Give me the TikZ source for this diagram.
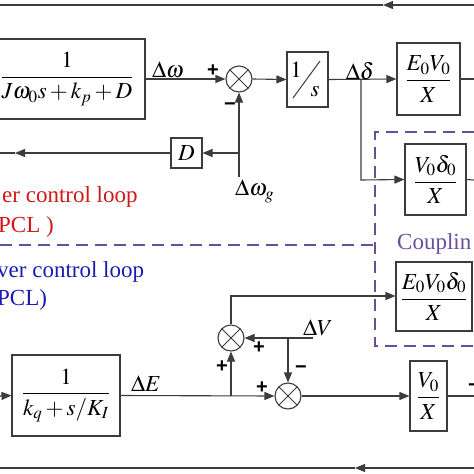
\documentclass[tikz,border=0pt]{standalone}
\usepackage{amsmath}
\usepackage{mathptmx}
\usepackage{fontspec}
\setmainfont{Liberation Serif}
\newfontfamily\signfont{Liberation Sans}
\usetikzlibrary{arrows.meta,calc}
\definecolor{ln}{HTML}{3C3C3C}
\definecolor{pcl}{HTML}{6B4E9B}
\definecolor{rd}{HTML}{D01818}
\definecolor{bl}{HTML}{1A1AB8}
\begin{document}
\begin{tikzpicture}[x=1pt,y=-1pt,
  every node/.style={font=\fontsize{23}{27}\selectfont},
  blk/.style={draw=ln, line width=1.1pt, inner sep=0pt, rectangle},
  sumj/.style={draw=ln, line width=1.1pt, circle, minimum size=26pt, inner sep=0pt,
    path picture={\draw[ln,line width=1pt] (path picture bounding box.north west)--(path picture bounding box.south east)
      (path picture bounding box.north east)--(path picture bounding box.south west);}},
  sig/.style={font=\signfont\bfseries\fontsize{20}{20}\selectfont, inner sep=0pt},
  lbl/.style={inner sep=0pt},
  wire/.style={draw=ln, line width=1.1pt},
  arr/.style={wire, -{Triangle[length=10pt,width=8pt]}},
  dsh/.style={draw=pcl, line width=1.4pt, dash pattern=on 12pt off 7pt},
]
\useasboundingbox (0,0) rectangle (474,474);
\clip (0,0) rectangle (474,474);

% blocks
\node[blk, minimum width=156pt, minimum height=80pt] (g1) at (67,79) {$\dfrac{1}{J\omega_0 s+k_p+D}$};
\node[blk, minimum width=41pt, minimum height=55pt] (int) at (307.5,79.5) {};
\node[lbl] (int1) at (296,70) {$1$};
\node[lbl] (ints) at (315,92) {$s$};
\draw[ln, line width=1pt] (293,98) -- (320,61);
\node[blk, minimum width=63pt, minimum height=72pt] (ev) at (428.5,79) {$\dfrac{E_0V_0}{X}$};
\node[blk, minimum width=61pt, minimum height=71pt] (vd) at (435.5,179.5) {$\dfrac{V_0\delta_0}{X}$};
\node[blk, minimum width=76pt, minimum height=69pt] (evd) at (434,296.5) {$\dfrac{E_0V_0\delta_0}{X}$};
\node[blk, minimum width=31pt, minimum height=30pt] (dd) at (186.5,153) {$D$};
\node[blk, minimum width=108pt, minimum height=81pt] (g2) at (66,395.5) {$\dfrac{1}{k_q+s/K_I}$};
\node[blk, minimum width=37pt, minimum height=70pt] (vx) at (428.5,396) {$\dfrac{V_0}{X}$};

% sums
\node[sumj] (s1) at (239,79) {};
\node[sumj] (s2) at (231,338) {};
\node[sumj] (s3) at (288,396) {};

% coordinates
\coordinate (tr) at (474,5);
\coordinate (tm) at (383,5);
\coordinate (tl) at (0,5);
\coordinate (br) at (474,468);
\coordinate (bm) at (355,468);
\coordinate (bl0) at (0,468);
\coordinate (d1) at (361,79);
\coordinate (d1b) at (361,180);
\coordinate (evout) at (474,79);
\coordinate (vdout) at (474,180);
\coordinate (wg) at (239,177);
\coordinate (wgd) at (239,153);
\coordinate (dl) at (0,153);
\coordinate (dm) at (15,153);
\coordinate (g2in) at (0,396);
\coordinate (e1) at (231,396);
\coordinate (s2t) at (231,296);
\coordinate (dv) at (313,338);
\coordinate (dv1) at (288,338);
\coordinate (vxout) at (474,396);

% connectors
\draw[arr] (tr) -- (tm);
\draw[wire] (tm) -- (tl);
\draw[arr] (br) -- (bm);
\draw[wire] (bm) -- (bl0);
\draw[arr] (g1.east) -- (s1.west);
\draw[arr] (s1.east) -- (int.west);
\draw[arr] (int.east) -- (ev.west);
\draw[wire] (ev.east) -- (evout);
\draw[arr] (d1) -- (d1b) -- (vd.west);
\draw[wire] (vd.east) -- (vdout);
\draw[arr] (wg) -- (s1.south);
\draw[arr] (wgd) -- (dd.east);
\draw[arr] (dd.west) -- (dm);
\draw[wire] (dm) -- (dl);
\draw[arr] (g2in) -- (g2.west);
\draw[arr] (g2.east) -- (s3.west);
\draw[arr] (e1) -- (s2.south);
\draw[arr] (s2.north) -- (s2t) -- (evd.west |- s2t);
\draw[arr] (dv) -- (s2.east);
\draw[arr] (dv1) -- (s3.north);
\draw[arr] (s3.east) -- (vx.west);
\draw[wire] (vx.east) -- (vxout);

% dashed region
\draw[dsh] (0,245) -- (375,245);
\draw[dsh] (474,132) -- (375,132) -- (375,346) -- (474,346);

% labels
\node[lbl] (lw) at (168,70) {$\Delta\omega$};
\node[lbl] (ld) at (360,71) {$\Delta\delta$};
\node[lbl, anchor=north west] (lwg) at (235,180) {$\Delta\omega_g$};
\node[lbl] (le) at (146,384) {$\Delta E$};
\node[lbl] (lv) at (318,328) {$\Delta V$};
\node[sig] (p1) at (213,71) {+};
\node[sig] (m1) at (230,107) {−};
\node[sig] (p2) at (222,367) {+};
\node[sig] (p3) at (259,348) {+};
\node[sig] (m3) at (301,370) {−};
\node[sig] (p4) at (262,388) {+};
\node[sig] (m4) at (474,388) {−};

\node[lbl, anchor=base west, text=pcl] (cp) at (397,249) {Couplin};
\node[lbl, anchor=base west, text=rd] (r1) at (2,202) {er control loop};
\node[lbl, anchor=base west, text=rd] (r2) at (-2,232) {PCL )};
\node[lbl, anchor=base west, text=bl] (b1) at (-3,277) {ver control loop};
\node[lbl, anchor=base west, text=bl] (b2) at (-3,305) {PCL)};
\end{tikzpicture}
\end{document}
